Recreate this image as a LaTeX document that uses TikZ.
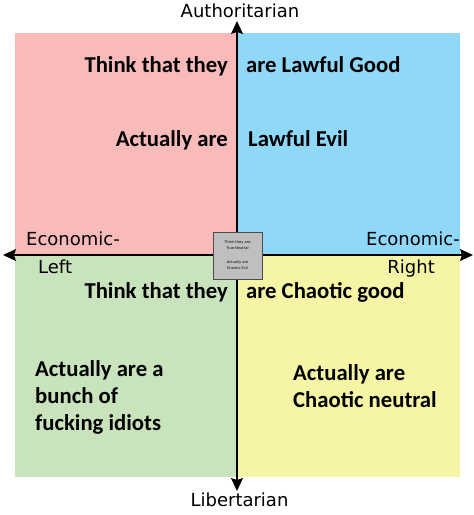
\documentclass[tikz,border=0pt]{standalone}
\usepackage{fontspec}
\setmainfont{DejaVu Sans}
\newfontfamily\quadfont{Carlito}
\usetikzlibrary{arrows.meta, positioning}
\definecolor{authLeft}{HTML}{F9BABA}
\definecolor{authRight}{HTML}{8FD8F8}
\definecolor{libLeft}{HTML}{C9E4BC}
\definecolor{libRight}{HTML}{F5F5A5}
\definecolor{boxGray}{HTML}{BFBFBF}
\tikzset{
  axisArrow/.style={{Stealth[length=13pt, width=12pt, inset=2pt]}-{Stealth[length=13pt, width=12pt, inset=2pt]},
                    line width=1.4pt, black},
  quadText/.style={font=\quadfont\bfseries\fontsize{22.7}{27}\selectfont, inner sep=0pt, align=left},
  axisText/.style={font=\fontsize{18}{21}\selectfont, inner sep=0pt},
  centerBox/.style={draw=black!70, fill=boxGray, line width=0.6pt, align=center,
                    font=\fontsize{3.6}{6}\selectfont, inner sep=0pt},
}
\begin{document}
\begin{tikzpicture}[x=1pt, y=-1pt]
    \useasboundingbox (0,0) rectangle (474,515);
    % quadrants
    \fill[authLeft]  (15,33)  rectangle (237,255);
    \fill[authRight] (237,33) rectangle (460,255);
    \fill[libLeft]   (15,255) rectangle (237,477);
    \fill[libRight]  (237,255) rectangle (460,477);

    % axes
    \coordinate (west) at (3,255);  \coordinate (east) at (473,255);
    \coordinate (north) at (237,21); \coordinate (south) at (237,491);
    \draw[axisArrow] (west) -- (east);
    \draw[axisArrow] (south) -- (north);

    \node[axisText, anchor=base] (auth) at (240,17) {Authoritarian};
    \node[axisText, anchor=base] (lib) at (239.5,506) {Libertarian};
    \node[axisText, anchor=base west] (econL) at (26,245) {Economic-};
    \node[axisText, anchor=base west] (left) at (38,273) {Left};
    \node[axisText, anchor=base east] (econR) at (460,245) {Economic-};
    \node[axisText, anchor=base east] (right) at (435,273) {Right};

    % quadrant texts
    \node[quadText, anchor=base east] (thinkTop) at (228,72) {Think that they};
    \node[quadText, anchor=base west] (lawGood) at (246,72) {are Lawful Good};
    \node[quadText, anchor=base east] (actTop) at (228,146) {Actually are};
    \node[quadText, anchor=base west] (lawEvil) at (248,146) {Lawful Evil};
    \node[quadText, anchor=base east] (thinkBot) at (228,298) {Think that they};
    \node[quadText, anchor=base west] (chaGood) at (246,298) {are Chaotic good};
    \node[quadText, anchor=base west] (idiots) at (35,430) {Actually are a\\bunch of\\fucking idiots};
    \node[quadText, anchor=base west] (chaNeutral) at (293,407) {Actually are\\Chaotic neutral};

    % centre
    \node[centerBox, minimum width=49pt, minimum height=47pt] (neutral) at (237.5,255.5)
      {Think they are\\True Neutral\\[8pt]Actually are\\Chaotic Evil};
  \end{tikzpicture}
\end{document}
